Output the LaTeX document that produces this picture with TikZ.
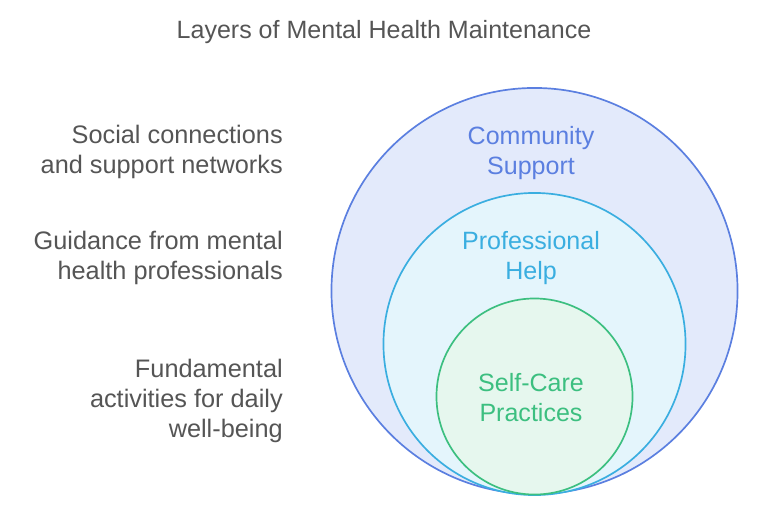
\documentclass[tikz,border=0pt]{standalone}
\usepackage{fontspec}
\setmainfont{Liberation Sans}
\usepackage{tikz}
\usetikzlibrary{positioning}
\definecolor{kozkek}{HTML}{5B7FE0}
\definecolor{kozhat}{HTML}{E3EAFB}
\definecolor{szakkek}{HTML}{3AAEE0}
\definecolor{szakhat}{HTML}{E4F5FC}
\definecolor{onzold}{HTML}{3CBF80}
\definecolor{onhat}{HTML}{E6F7EE}
\definecolor{szurke}{HTML}{555555}
\tikzset{
  kor/.style={circle,draw,line width=1.2pt,inner sep=0pt},
  cim/.style={font=\fontsize{17.8}{21}\selectfont,text=szurke},
  magy/.style={align=right,anchor=east,inner sep=0pt,font=\fontsize{18}{21.3}\selectfont,text=szurke},
  bent/.style={align=center,font=\fontsize{17.8}{21.3}\selectfont},
}

\begin{document}
\begin{tikzpicture}[x=0.025cm,y=-0.025cm]
  \useasboundingbox (0,0) rectangle (768,512);
  \node[kor,draw=kozkek,fill=kozhat,minimum size=10.15cm] (kulso) at (534.5,291) {};
  \node[kor,draw=szakkek,fill=szakhat,minimum size=7.55cm] (kozep) at (534.5,344) {};
  \node[kor,draw=onzold,fill=onhat,minimum size=4.9cm] (belso) at (534.5,396.5) {};
  \node[cim] (cimsor) at (384,32) {Layers of Mental Health Maintenance};
  \node[bent,text=kozkek] (kozt) at (531,153) {Community\\ Support};
  \node[bent,text=szakkek] (szakt) at (531,258) {Professional\\ Help};
  \node[bent,text=onzold] (ont) at (531,398) {Self-Care\\ Practices};
  \node[magy] (kozm) at (283,152) {Social connections\\ and support networks};
  \node[magy] (szakm) at (283,258) {Guidance from mental\\ health professionals};
  \node[magy] (onm) at (283,401) {Fundamental\\ activities for daily\\ well-being};
\end{tikzpicture}
\end{document}
